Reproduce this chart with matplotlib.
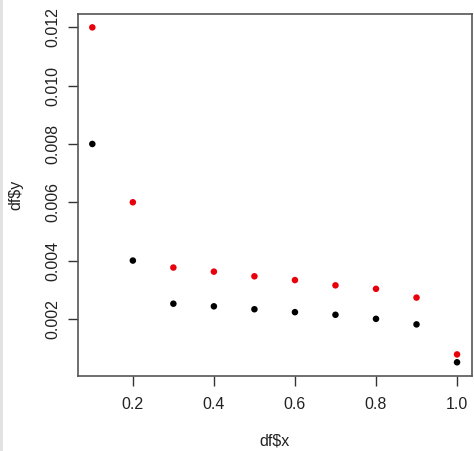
import matplotlib
matplotlib.use("Agg")
import matplotlib.pyplot as plt
import matplotlib.patches as mpatches

# data
x = [0.1, 0.2, 0.3, 0.4, 0.5, 0.6, 0.7, 0.8, 0.9, 1.0]
y_black = [0.0080, 0.0040, 0.00252, 0.00243, 0.00233, 0.00223, 0.00214, 0.0020, 0.00181, 0.00051]
y_red = [0.0120, 0.0060, 0.00376, 0.00362, 0.00346, 0.00333, 0.00315, 0.00303, 0.00273, 0.00078]
xticks = [0.2, 0.4, 0.6, 0.8, 1.0]
yticks = [0.002, 0.004, 0.006, 0.008, 0.010, 0.012]

plt.rcParams["font.family"] = ["Liberation Sans", "DejaVu Sans"]

fig = plt.figure(figsize=(4.74, 4.51), dpi=100)
ax = fig.add_axes([0.164, 0.167, 0.831, 0.802])

ax.scatter(x, y_black, s=22, color="black", edgecolors="none", zorder=3)
ax.scatter(x, y_red, s=22, color="#e8000b", edgecolors="none", zorder=3)

# R style 4% padding
def pad(lo, hi):
    d = (hi - lo) * 0.04
    return lo - d, hi + d

ax.set_xlim(*pad(min(x), max(x)))
ax.set_ylim(*pad(min(y_black + y_red), max(y_black + y_red)))

ax.set_xticks(xticks)
ax.set_xticklabels([f"{t:.1f}" for t in xticks])
ax.set_yticks(yticks)
ax.set_yticklabels([f"{t:.3f}" for t in yticks], rotation=90, va="center")
ax.tick_params(length=7, width=1, color="#333333", labelsize=11.5,
               labelcolor="#222222")
ax.tick_params(axis="x", pad=8)
ax.tick_params(axis="y", pad=5.5)
for s in ax.spines.values():
    s.set_color("#555555")
    s.set_linewidth(1.2)

ax.set_xlabel("df$x", fontsize=11.5, color="#222222", labelpad=16)
ax.set_ylabel("df$y", fontsize=11.5, color="#222222", labelpad=16)

# thin grey strip on the left edge of the screenshot
fig.patches.append(mpatches.Rectangle((0, 0), 2.5 / 474, 1, transform=fig.transFigure,
                                      facecolor="#e2e2e2", edgecolor="none"))

fig.savefig("out.png", dpi=100)
